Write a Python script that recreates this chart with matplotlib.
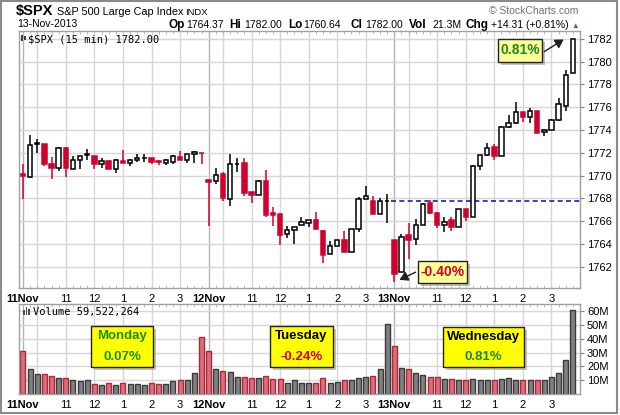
import matplotlib
matplotlib.use("Agg")
import matplotlib.pyplot as plt
from matplotlib.patches import Rectangle, FancyArrowPatch
import numpy as np

# $SPX 15-minute bars, 11-13 Nov 2013 (26 bars per session)
opens = [1770.1, 1769.9, 1772.9, 1772.8, 1771.0, 1770.7, 1772.4, 1770.6, 1771.4, 1771.86,
         1771.75, 1771.0, 1771.3, 1770.55, 1771.3, 1771.1, 1771.35, 1771.58, 1771.55, 1771.3,
         1771.1, 1771.15, 1771.6, 1771.4, 1771.9, 1772.0,
         1769.6, 1769.5, 1770.15, 1767.9, 1771.05, 1771.1, 1768.55, 1768.25, 1769.5, 1766.75,
         1766.6, 1764.85, 1765.2, 1765.7, 1765.8, 1766.1, 1765.1, 1763.1, 1763.8, 1764.35,
         1763.3, 1765.3, 1767.9, 1767.75, 1766.6, 1767.78,
         1764.37, 1761.5, 1764.8, 1764.4, 1765.7, 1767.55, 1766.7, 1765.7, 1766.1, 1765.45,
         1767.05, 1766.4, 1770.85, 1771.8, 1772.5, 1771.7, 1774.3, 1774.6, 1775.6, 1775.1,
         1775.65, 1773.85, 1774.0, 1774.9, 1776.1, 1779.0]
highs = [1771.0, 1773.55, 1773.2, 1772.8, 1771.6, 1772.5, 1772.5, 1771.7, 1771.7, 1772.3,
         1771.75, 1771.5, 1771.4, 1771.45, 1772.25, 1771.45, 1771.9, 1771.9, 1771.55, 1771.4,
         1771.45, 1771.8, 1772.15, 1771.85, 1772.2, 1772.0,
         1769.6, 1770.65, 1770.3, 1771.9, 1771.5, 1771.55, 1768.55, 1769.65, 1770.5, 1767.2,
         1766.6, 1765.6, 1765.45, 1766.4, 1766.1, 1766.8, 1765.2, 1764.25, 1764.35, 1765.15,
         1765.35, 1768.1, 1769.1, 1768.2, 1768.0, 1768.4,
         1764.37, 1764.85, 1765.8, 1766.15, 1767.55, 1767.85, 1766.8, 1766.4, 1766.4, 1767.1,
         1767.05, 1770.9, 1771.8, 1772.9, 1772.8, 1774.35, 1775.3, 1776.5, 1775.6, 1775.9,
         1775.65, 1774.1, 1774.95, 1776.8, 1779.3, 1782.0]
lows = [1767.9, 1769.75, 1772.0, 1770.8, 1769.7, 1770.4, 1769.9, 1770.6, 1770.6, 1771.4,
        1770.6, 1770.7, 1770.55, 1770.25, 1771.1, 1770.8, 1771.2, 1771.2, 1771.0, 1770.9,
        1770.95, 1771.05, 1771.4, 1771.1, 1771.1, 1771.0,
        1765.6, 1769.3, 1767.8, 1767.35, 1770.35, 1768.2, 1767.6, 1768.25, 1766.4, 1765.6,
        1763.9, 1764.55, 1763.95, 1765.7, 1765.5, 1765.3, 1762.3, 1763.1, 1763.8, 1763.3,
        1763.3, 1765.05, 1767.9, 1766.6, 1766.6, 1765.85,
        1760.64, 1761.5, 1762.65, 1763.9, 1765.7, 1766.6, 1765.4, 1765.05, 1765.1, 1765.45,
        1766.05, 1766.4, 1770.5, 1771.7, 1771.4, 1771.7, 1774.2, 1774.5, 1774.7, 1774.6,
        1773.75, 1773.5, 1774.0, 1774.75, 1775.7, 1779.0]
closes = [1770.0, 1772.7, 1772.75, 1771.0, 1770.7, 1772.4, 1770.7, 1771.4, 1771.7, 1771.84,
          1771.0, 1771.3, 1770.55, 1771.4, 1771.1, 1771.4, 1771.55, 1771.56, 1771.2, 1771.15,
          1771.4, 1771.7, 1771.4, 1771.85, 1772.1, 1771.95,
          1769.4, 1770.05, 1768.0, 1771.0, 1771.02, 1768.5, 1768.25, 1769.5, 1766.55, 1766.5,
          1764.8, 1765.2, 1765.45, 1765.95, 1766.1, 1765.3, 1763.0, 1763.85, 1764.35, 1763.3,
          1765.35, 1767.9, 1768.2, 1766.6, 1767.75, 1767.76,
          1761.35, 1764.65, 1764.3, 1765.7, 1767.5, 1766.7, 1765.7, 1765.9, 1765.45, 1767.05,
          1766.4, 1770.85, 1771.8, 1772.45, 1771.7, 1774.3, 1774.6, 1775.6, 1775.1, 1775.65,
          1773.75, 1774.0, 1774.9, 1776.3, 1778.85, 1782.0]
volume_m = [30.8, 17.8, 14.6, 14.6, 13.4, 11.7, 11.7, 10.5, 9.1, 9.8, 7.4, 6.6, 8.1, 6.6,
            8.1, 7.4, 7.4, 6.6, 8.1, 7.4, 7.4, 9.1, 9.8, 9.8, 15.3, 41.4,
            31.3, 18.2, 17.0, 16.1, 12.4, 12.4, 11.7, 11.7, 13.2, 11.0, 11.0, 8.1, 9.8, 8.1,
            8.1, 8.1, 11.7, 8.1, 8.8, 10.5, 10.5, 11.7, 12.4, 13.4, 17.8, 50.4,
            35.1, 19.0, 17.8, 15.3, 13.9, 12.4, 12.4, 11.0, 11.0, 10.5, 9.8, 11.0, 10.5, 9.8,
            9.8, 11.0, 11.7, 10.5, 10.5, 10.5, 10.5, 9.8, 12.4, 14.9, 24.8, 60.5]
close_nov8 = 1770.61
prev_close = 1767.75

day_labels = ["11Nov", "12Nov", "13Nov"]
hour_labels = ["11", "12", "1", "2", "3"]
hour_bars = [6, 10, 14, 18, 22]
grid_bars = [2, 6, 10, 14, 18, 22]
bars_per_day = 26
price_ticks = list(range(1762, 1783, 2))
vol_ticks = [10, 20, 30, 40, 50, 60]

RED = "#d2002e"
GRID = "#d6d6d6"
DAYLINE = "#b4b4b4"
W, H = 620, 415

def fx(x):
    return x / W

def fy(y):
    return 1 - y / H

fig = plt.figure(figsize=(6.2, 4.15), dpi=100)
fig.patch.set_facecolor("white")
plt.rcParams["font.family"] = ["Liberation Sans", "DejaVu Sans"]

ax = fig.add_axes([fx(19), fy(288), fx(580) - fx(19), fy(31) - fy(288)])
axv = fig.add_axes([fx(19), fy(394), fx(580) - fx(19), fy(304) - fy(394)])

x = np.arange(len(closes))
prev = [close_nov8] + closes[:-1]
edge = [RED if c < p else "black" for c, p in zip(closes, prev)]
fill = ["white" if c >= o else e for o, c, e in zip(opens, closes, edge)]

xmin, xmax = -0.56, 78.0

# grid + ticks
tick_pos, tick_lab = [], []
for d, lab in enumerate(day_labels):
    base = d * bars_per_day
    tick_pos.append(base)
    tick_lab.append(lab)
    for hb, hl in zip(hour_bars, hour_labels):
        tick_pos.append(base + hb)
        tick_lab.append(hl)

for a in (ax, axv):
    for d in range(3):
        base = d * bars_per_day
        a.axvline(base, color=DAYLINE, lw=1, zorder=0)
        for g in grid_bars:
            a.axvline(base + g, color=GRID, lw=1, zorder=0)
    a.set_xlim(xmin, xmax)
    a.set_xticks(tick_pos)
    a.set_xticklabels(tick_lab)
    a.set_xticks(x, minor=True)
    a.tick_params(axis="x", which="major", length=0, labelsize=8, pad=4)
    a.tick_params(axis="x", which="minor", length=2, color="#b0b0b0", direction="in", top=True)
    for t in a.get_xticklabels():
        if t.get_text().endswith("Nov"):
            t.set_fontweight("bold")
    a.yaxis.tick_right()
    a.tick_params(axis="y", length=3, labelsize=8, color="#808080", pad=2)
    for s in a.spines.values():
        s.set_color("#a0a0a0")
        s.set_linewidth(1)

for p in price_ticks:
    ax.axhline(p, color=GRID, lw=1, zorder=0)
ax.set_yticks(price_ticks)
ax.set_ylim(1760.13, 1782.69)

# candles
ax.vlines(x, lows, highs, colors=edge, lw=1.1, zorder=2)
body_lo = np.minimum(opens, closes)
body_h = np.abs(np.array(closes) - np.array(opens))
ax.bar(x, body_h, bottom=body_lo, width=0.62, color=fill, edgecolor=edge, linewidth=1.1, zorder=3)

# previous close line
ax.hlines(prev_close, 51.5, xmax, colors="#1a1acc", linestyles=(0, (3, 2)), lw=1.2, zorder=1)

# volume
for v in vol_ticks:
    axv.axhline(v, color=GRID, lw=1, zorder=0)
vfill = ["#d6707c" if e == RED else "#808080" for e in edge]
vedge = ["#b3263a" if e == RED else "#3a3a3a" for e in edge]
axv.bar(x, volume_m, width=0.7, color=vfill, edgecolor=vedge, linewidth=1, zorder=2)
axv.set_yticks(vol_ticks)
axv.set_yticklabels([f"{v}M" for v in vol_ticks])
axv.set_ylim(0, 65.2)

# header
fig.text(fx(16), fy(15), "$SPX", fontsize=10.5, fontweight="bold", va="baseline")
fig.text(fx(57), fy(15), "S&P 500 Large Cap Index", fontsize=7.8, va="baseline")
fig.text(fx(185), fy(15), "INDX", fontsize=6.8, va="baseline")
fig.text(fx(17), fy(27), "13-Nov-2013", fontsize=7.5, va="baseline")
fig.text(fx(578), fy(14), "\u00a9 StockCharts.com", fontsize=7.5, color="#707070", ha="right", va="baseline")
stats = [("Op", 168, True), ("1764.37", 186, False), ("Hi", 229, True), ("1782.00", 244, False),
         ("Lo", 288, True), ("1760.64", 303, False), ("Cl", 350, True), ("1782.00", 365, False),
         ("Vol", 409, True), ("21.3M", 432, False), ("Chg", 465, True), ("+14.31 (+0.81%)", 491, False)]
for txt, px_, bold in stats:
    fig.text(fx(px_), fy(28), txt, fontsize=8.5 if bold else 7.5,
             fontweight="bold" if bold else "normal", va="baseline")
fig.text(fx(575), fy(28), "\u25b2", fontsize=5.5, color="#2a8a2a", ha="center", va="baseline")

# chart legends
fig.text(fx(28), fy(42), "$SPX (15 min) 1782.00", fontsize=7.5, family="DejaVu Sans Mono", va="baseline")
for ix, (y0, y1) in enumerate([(35, 41), (36, 40)]):
    fig.add_artist(Rectangle((fx(21 + ix * 3), fy(y1)), fx(2), fy(y0) - fy(y1),
                             facecolor="#404040", edgecolor="none", zorder=5))
fig.text(fx(33), fy(315), "Volume 59,522,264", fontsize=7.5, family="DejaVu Sans Mono", va="baseline")
for ix, hh in enumerate([5, 8, 6]):
    fig.add_artist(Rectangle((fx(23 + ix * 2.5), fy(315)), fx(1.6), fy(315 - hh) - fy(315),
                             facecolor="#505050", edgecolor="none", zorder=5))


def note_box(x0, y0, x1, y1, face, lines):
    fig.add_artist(Rectangle((fx(x0 + 3), fy(y1 + 3)), fx(x1 - x0), fy(y0) - fy(y1),
                             facecolor="#9a9a9a", edgecolor="none", alpha=0.6, zorder=6))
    fig.add_artist(Rectangle((fx(x0), fy(y1)), fx(x1 - x0), fy(y0) - fy(y1),
                             facecolor=face, edgecolor="#222222", lw=1, zorder=7))
    n = len(lines)
    for k, (txt, col) in enumerate(lines):
        yc = y0 + (y1 - y0) * (k + 0.5) / n
        fig.text(fx((x0 + x1) / 2), fy(yc), txt, color=col, fontsize=10 if n == 1 else 9.5,
                 fontweight="bold", ha="center", va="center", zorder=8)


GREEN = "#1f8a1f"
note_box(91, 326, 153, 367, "#ffff00", [("Monday", GREEN), ("0.07%", GREEN)])
note_box(270, 326, 333, 367, "#ffff00", [("Tuesday", "black"), ("-0.24%", RED)])
note_box(443, 327, 524, 367, "#ffff00", [("Wednesday", "black"), ("0.81%", GREEN)])
note_box(498, 39, 542, 62, "#ffff99", [("0.81%", GREEN)])
note_box(418, 261, 467, 283, "#ffff99", [("-0.40%", RED)])

for (xa, ya), (xb, yb) in [((542, 53), (566, 38)), ((418, 271), (397, 281))]:
    fig.add_artist(FancyArrowPatch((fx(xa), fy(ya)), (fx(xb), fy(yb)), transform=fig.transFigure,
                                   arrowstyle="-|>,head_length=5,head_width=3", color="#202020",
                                   lw=1, zorder=9))

# outer frame
fig.add_artist(Rectangle((fx(1), fy(413)), fx(616), fy(1) - fy(413), fill=False,
                         edgecolor="#8a8a8a", lw=1.5, zorder=10))

fig.savefig("out.png", dpi=100)
